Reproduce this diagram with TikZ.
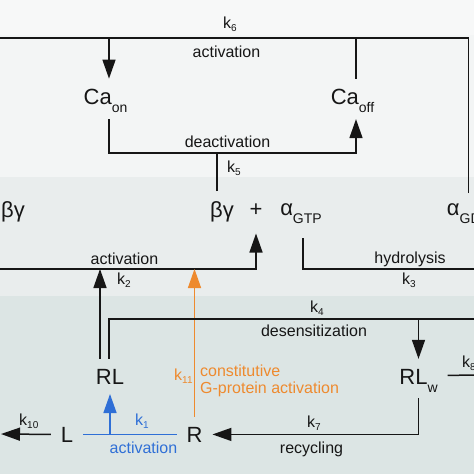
\documentclass[tikz,border=0pt]{standalone}
\usepackage{fontspec}
\setmainfont{Liberation Sans}
\usepackage{tikz}
\usetikzlibrary{arrows.meta}
\definecolor{bandstrip}{HTML}{F7F8F8}
\definecolor{bandtop}{HTML}{F3F5F5}
\definecolor{bandmid}{HTML}{E9EDED}
\definecolor{bandbot}{HTML}{DCE5E4}
\definecolor{ink}{HTML}{161616}
\definecolor{gorange}{HTML}{EE8A2E}
\definecolor{gblue}{HTML}{2F6FD6}
\newcommand{\kk}[1]{k\raisebox{-3.5pt}{\fontsize{10}{10}\selectfont #1}}
\newcommand{\lowsub}[1]{\raisebox{-8pt}{\fontsize{14}{14}\selectfont #1}}

\begin{document}
\begin{tikzpicture}[x=1pt,y=-1pt,>={Triangle[length=19pt,width=13pt]},
  line/.style={line width=1.5pt,draw=ink},
  big/.style={font=\fontsize{22}{24}\selectfont,text=ink,inner sep=10pt,outer sep=0pt,anchor=base},
  lab/.style={font=\fontsize{16}{18}\selectfont,text=ink,inner sep=0pt,anchor=base},
  klab/.style={lab,anchor=base west}]
\useasboundingbox (0,0) rectangle (474,474);
\clip (0,0) rectangle (474,474);
\fill[bandtop] (0,0) rectangle (474,177);\fill[bandstrip] (0,0) rectangle (474,35);
\fill[bandmid] (0,177) rectangle (474,296);
\fill[bandbot] (0,296) rectangle (474,474);
\coordinate (k6w) at (0,38);\coordinate (deactY) at (0,153);
\coordinate (k2w) at (0,269);\coordinate (k3e) at (474,269);
\coordinate (k4e) at (474,319);\coordinate (k8e) at (474,375);
\coordinate (k10w) at (1,434);
\node[big] (caon) at (105.5,104) {Ca\lowsub{on}};
\node[big] (caoff) at (352.5,104) {Ca\lowsub{off}};
\node[big] (bgl) at (13,217) {βγ};
\node[big] (bgm) at (222,217) {βγ};
\node[big,inner ysep=17pt] (plus) at (256,216.5) {+};
\node[big,inner ysep=15pt] (agtp) at (301,215) {α\lowsub{GTP}};
\node[big] (agdp) at (468.5,215) {α\lowsub{GDP}};
\node[big] (rl) at (110,384) {RL};
\node[big] (rlw) at (418.5,384) {RL\lowsub{w}};
\node[big] (l) at (67,442) {L};
\node[big] (r) at (194.5,442) {R};
\coordinate (caonN) at ([xshift=3.5pt]caon.north);\coordinate (caonS) at ([xshift=3.5pt,yshift=3pt]caon.south);
\coordinate (caoffN) at ([xshift=3.5pt]caoff.north);\coordinate (caoffS) at ([xshift=3.5pt,yshift=3pt]caoff.south);
\coordinate (bgmN) at ([xshift=-5pt]bgm.north);
\coordinate (agtpS) at ([xshift=2pt]agtp.south);
\coordinate (rlA) at ([xshift=-10pt]rl.north);\coordinate (rlB) at ([xshift=-1pt]rl.north);
\draw[line] (agdp.north) |- (k6w);
\draw[line,->] (caonN |- k6w) -- (caonN);
\draw[line] (caoffN) -- (caoffN |- k6w);
\draw[line,->] (caonS) -- (caonS |- deactY) -| (caoffS);
\draw[line] (bgmN) -- (bgmN |- deactY);
\draw[line,->] (k2w) -| (plus.south);
\draw[line,->] (rlA) -- (rlA |- k2w);
\draw[line,gorange,->] (r.north) -- (r.north |- k2w);
\draw[line] (agtpS) |- (k3e);
\draw[line] (rlB) |- (k4e);
\draw[line,->] (rlw.north |- k4e) -- (rlw.north);
\draw[line,->] ([yshift=4pt]rlw.south) |- (r.east);
\draw[line] ([yshift=5pt]rlw.east) -- (k8e);
\draw[line,->] (l.west) -- (k10w);
\draw[line,gblue] (l.east) -- (r.west);
\draw[line,gblue,->] (rl.south |- l.east) -- (rl.south);
\node[klab] (lk6) at (223,28) {\kk{6}};
\node[lab] (lact1) at (226.5,57) {activation};
\node[lab] (ldeact) at (227.5,147) {deactivation};
\node[klab] (lk5) at (227,172) {\kk{5}};
\node[lab] (lact2) at (124.5,264) {activation};
\node[klab] (lk2) at (117,284) {\kk{2}};
\node[lab] (lhydro) at (410,263) {hydrolysis};
\node[klab] (lk3) at (402,284) {\kk{3}};
\node[klab] (lk4) at (310,312) {\kk{4}};
\node[lab] (ldesens) at (314,336) {desensitization};
\node[klab] (lk8) at (462,367) {\kk{8}};
\node[klab,text=gorange] (lk11) at (174,380) {\kk{11}};
\node[klab,text=gorange] (lconst) at (200,376.5) {constitutive};
\node[klab,text=gorange] (lgprot) at (200,393.5) {G-protein activation};
\node[klab] (lk7) at (307,427) {\kk{7}};
\node[lab] (lrecyc) at (311.5,453) {recycling};
\node[klab,text=gblue] (lk1) at (135,425) {\kk{1}};
\node[lab,text=gblue] (lact3) at (143.5,453) {activation};
\node[klab] (lk10) at (19,425) {\kk{10}};
\end{tikzpicture}
\end{document}
